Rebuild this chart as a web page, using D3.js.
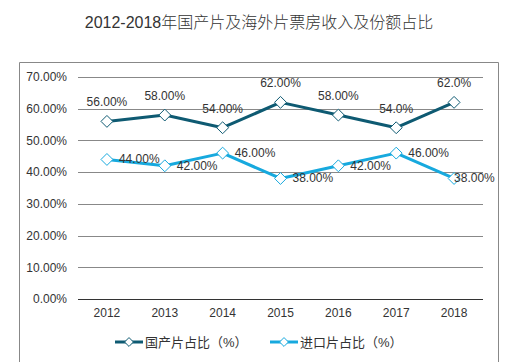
<!DOCTYPE html>
<html>
<head>
<meta charset="utf-8">
<script src="https://cdn.jsdelivr.net/npm/d3@7"></script>
<style>
  body { margin: 0; background: #fff; }
  svg text { font-family: "Liberation Sans", Arial, "Noto Sans CJK SC", sans-serif; fill: #333; }
</style>
</head>
<body>
<div id="chart"></div>
<script>
// Data
const years = ['2012', '2013', '2014', '2015', '2016', '2017', '2018'];
const domesticShare = [56, 58, 54, 62, 58, 54, 62];
const importShare = [44, 42, 46, 38, 42, 46, 38];
const domesticLabels = ['56.00%', '58.00%', '54.00%', '62.00%', '58.00%', '54.0%', '62.0%'];
const importLabels = ['44.00%', '42.00%', '46.00%', '38.00%', '42.00%', '46.00%', '38.00%'];
const yTicks = [0, 10, 20, 30, 40, 50, 60, 70];
const seriesNames = ['国产片占比（%）', '进口片占比（%）'];
const titleText = '2012-2018年国产片及海外片票房收入及份额占比';

const width = 517, height = 362;
const margin = { left: 78, right: 34, top: 77, bottom: 63 };
const darkColor = '#0e5a72';
const lightColor = '#17a9de';

const svg = d3.select('#chart')
    .append('svg')
    .attr('width', width)
    .attr('height', height);

// Title
svg.append('text')
    .attr('x', 259)
    .attr('y', 28)
    .attr('text-anchor', 'middle')
    .attr('font-size', 16)
    .attr('font-family', '"Noto Sans CJK SC", sans-serif')
    .attr('font-weight', 300)
    .text(titleText);

// Outer frame (bottom edge runs off the picture)
svg.append('path')
    .attr('d', 'M19.5,' + (height + 2) + 'V62.5H498.5V' + (height + 2))
    .attr('fill', 'none')
    .attr('stroke', '#888')
    .attr('stroke-width', 1);

const x = d3.scaleBand()
    .domain(years)
    .range([margin.left, width - margin.right]);

const y = d3.scaleLinear()
    .domain([0, 70])
    .range([height - margin.bottom, margin.top]);

// Grid lines
svg.append('g')
    .selectAll('line')
    .data(yTicks)
    .join('line')
    .attr('x1', margin.left)
    .attr('x2', width - margin.right)
    .attr('y1', d => Math.round(y(d)) + 0.5)
    .attr('y2', d => Math.round(y(d)) + 0.5)
    .attr('stroke', d => d === 0 ? '#333' : '#888')
    .attr('stroke-width', 1);

// Y axis labels
const yAxis = svg.append('g')
    .attr('transform', `translate(${margin.left},0)`)
    .call(d3.axisLeft(y).tickValues(yTicks).tickSize(0).tickPadding(11)
        .tickFormat(d => d.toFixed(2) + '%'));
yAxis.select('.domain').remove();
yAxis.selectAll('text').attr('font-size', 12).attr('fill', '#333');

// X axis labels
const xAxis = svg.append('g')
    .attr('transform', `translate(0,${height - margin.bottom})`)
    .call(d3.axisBottom(x).tickSize(0).tickPadding(9));
xAxis.select('.domain').remove();
xAxis.selectAll('text').attr('font-size', 12).attr('fill', '#333');

const cx = (d, i) => x(years[i]) + x.bandwidth() / 2;
const diamond = d3.symbol().type(d3.symbolDiamond2).size(90);

function drawSeries(values, color) {
    const line = d3.line()
        .x(cx)
        .y(d => y(d));
    svg.append('path')
        .datum(values)
        .attr('d', line)
        .attr('fill', 'none')
        .attr('stroke', color)
        .attr('stroke-width', 3)
        .attr('stroke-linejoin', 'round');
    svg.append('g')
        .selectAll('path')
        .data(values)
        .join('path')
        .attr('d', diamond)
        .attr('transform', (d, i) => `translate(${cx(d, i)},${y(d)})`)
        .attr('fill', '#fff')
        .attr('stroke', color)
        .attr('stroke-width', 1);
}

drawSeries(domesticShare, darkColor);
drawSeries(importShare, lightColor);

// Value labels: domestic above, imports to the right
svg.append('g')
    .selectAll('text')
    .data(domesticShare)
    .join('text')
    .attr('x', cx)
    .attr('y', d => y(d) - 15)
    .attr('text-anchor', 'middle')
    .attr('font-size', 12)
    .text((d, i) => domesticLabels[i]);

svg.append('g')
    .selectAll('text')
    .data(importShare)
    .join('text')
    .attr('x', (d, i) => cx(d, i) + (i === importShare.length - 1 ? 0 : 12))
    .attr('y', d => y(d) + 4)
    .attr('font-size', 12)
    .text((d, i) => importLabels[i]);

// Legend
const legendX = [115, 270];
const legendColors = [darkColor, lightColor];
const legend = svg.append('g')
    .selectAll('g')
    .data(seriesNames)
    .join('g')
    .attr('transform', (d, i) => `translate(${legendX[i]},342)`);

legend.append('line')
    .attr('x1', 0).attr('x2', 28)
    .attr('stroke', (d, i) => legendColors[i])
    .attr('stroke-width', 3);
legend.append('path')
    .attr('d', d3.symbol().type(d3.symbolDiamond2).size(50))
    .attr('transform', 'translate(14,0)')
    .attr('fill', '#fff')
    .attr('stroke', (d, i) => legendColors[i]);
legend.append('text')
    .attr('x', 30)
    .attr('y', 5)
    .attr('font-size', 13)
    .attr('font-family', '"Noto Sans CJK SC", sans-serif')
    .text(d => d);
</script>
</body>
</html>
